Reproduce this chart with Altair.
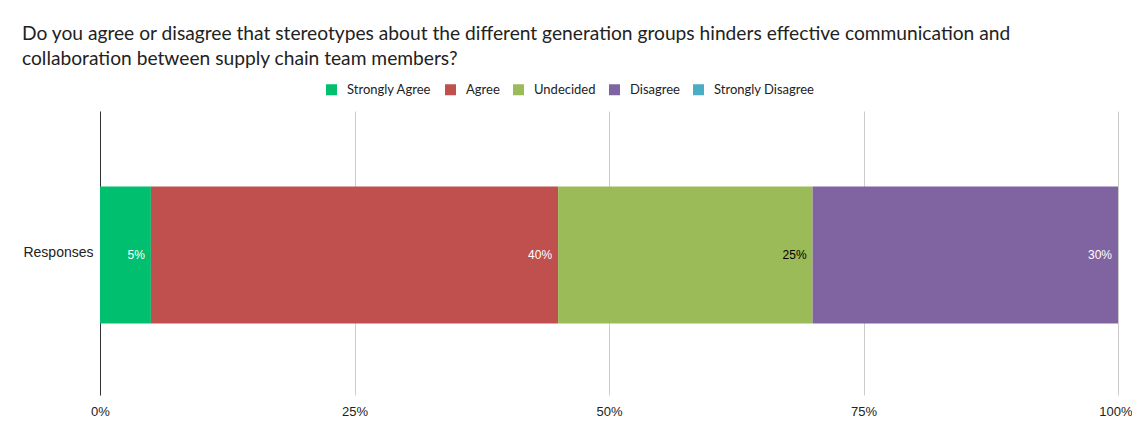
import altair as alt
import pandas as pd

categories = ["Strongly Agree", "Agree", "Undecided", "Disagree", "Strongly Disagree"]
values = [5, 40, 25, 30, 0]
colors = ["#00bf6f", "#c0504d", "#9bbb59", "#8064a2", "#4bacc6"]
label_colors = ["white", "white", "black", "white", "white"]
row_label = "Responses"
title_lines = [
    "Do you agree or disagree that stereotypes about the different generation groups hinders effective communication and",
    "collaboration between supply chain team members?",
]

ends = pd.Series(values).cumsum() / 100
starts = ends - pd.Series(values) / 100
df = pd.DataFrame({
    "cat": categories,
    "row": [row_label] * len(categories),
    "start": starts,
    "end": ends,
    "pct": [v / 100 for v in values],
    "lc": label_colors,
})

xscale = alt.Scale(domain=[0, 1], nice=False)
color = alt.Color(
    "cat:N",
    scale=alt.Scale(domain=categories, range=colors),
    sort=categories,
    legend=alt.Legend(
        title=None, orient="none", direction="horizontal",
        legendX=225, legendY=-28, symbolType="square", symbolSize=121,
        symbolStrokeWidth=0, labelFont="Lato", labelFontSize=13, labelColor="#222222",
        columnPadding=12, labelOffset=9,
    ),
)

base = alt.Chart(df)

bars = base.mark_bar(size=137, yOffset=2).encode(
    x=alt.X("start:Q", scale=xscale,
            axis=alt.Axis(format=".0%", values=[0, 0.25, 0.5, 0.75, 1], title=None,
                          domain=False, ticks=False, labelPadding=10, labelFont="Liberation Sans",
                          labelFontSize=13, labelColor="#222222", grid=True, gridColor="#cccccc",
                          labelFlush=False,
                          labelAlign={"condition": {"test": "datum.value == 1", "value": "right"}, "value": "center"},
                          labelOffset={"condition": {"test": "datum.value == 1", "value": 14}, "value": 0})),
    x2="end:Q",
    y=alt.Y("row:N", axis=alt.Axis(title=None, ticks=False, domainColor="#333333", domainWidth=1,
                                  labelFont="Liberation Sans", labelFontSize=14, labelColor="#222222",
                                  labelPadding=7)),
    color=color,
)

labels = base.transform_filter("datum.pct > 0").mark_text(
    align="right", dx=-6, yOffset=2, font="Liberation Sans", fontSize=12
).encode(
    x=alt.X("end:Q", scale=xscale),
    y=alt.Y("row:N"),
    text=alt.Text("pct:Q", format=".0%"),
    color=alt.Color("lc:N", scale=None),
)

chart = alt.layer(bars, labels).properties(
    width=1018, height=284,
    autosize="none",
    padding={"left": 92, "top": 103, "right": 14, "bottom": 38},
    title=alt.TitleParams(
        text=title_lines, anchor="start", frame="group", align="left", dx=-78, offset=14,
        font="Lato", fontSize=19.2, fontWeight="normal", color="#222222", lineHeight=25,
    ),
).configure_view(stroke=None)

chart.save("out.html", embed_options={"renderer": "svg", "actions": False})
